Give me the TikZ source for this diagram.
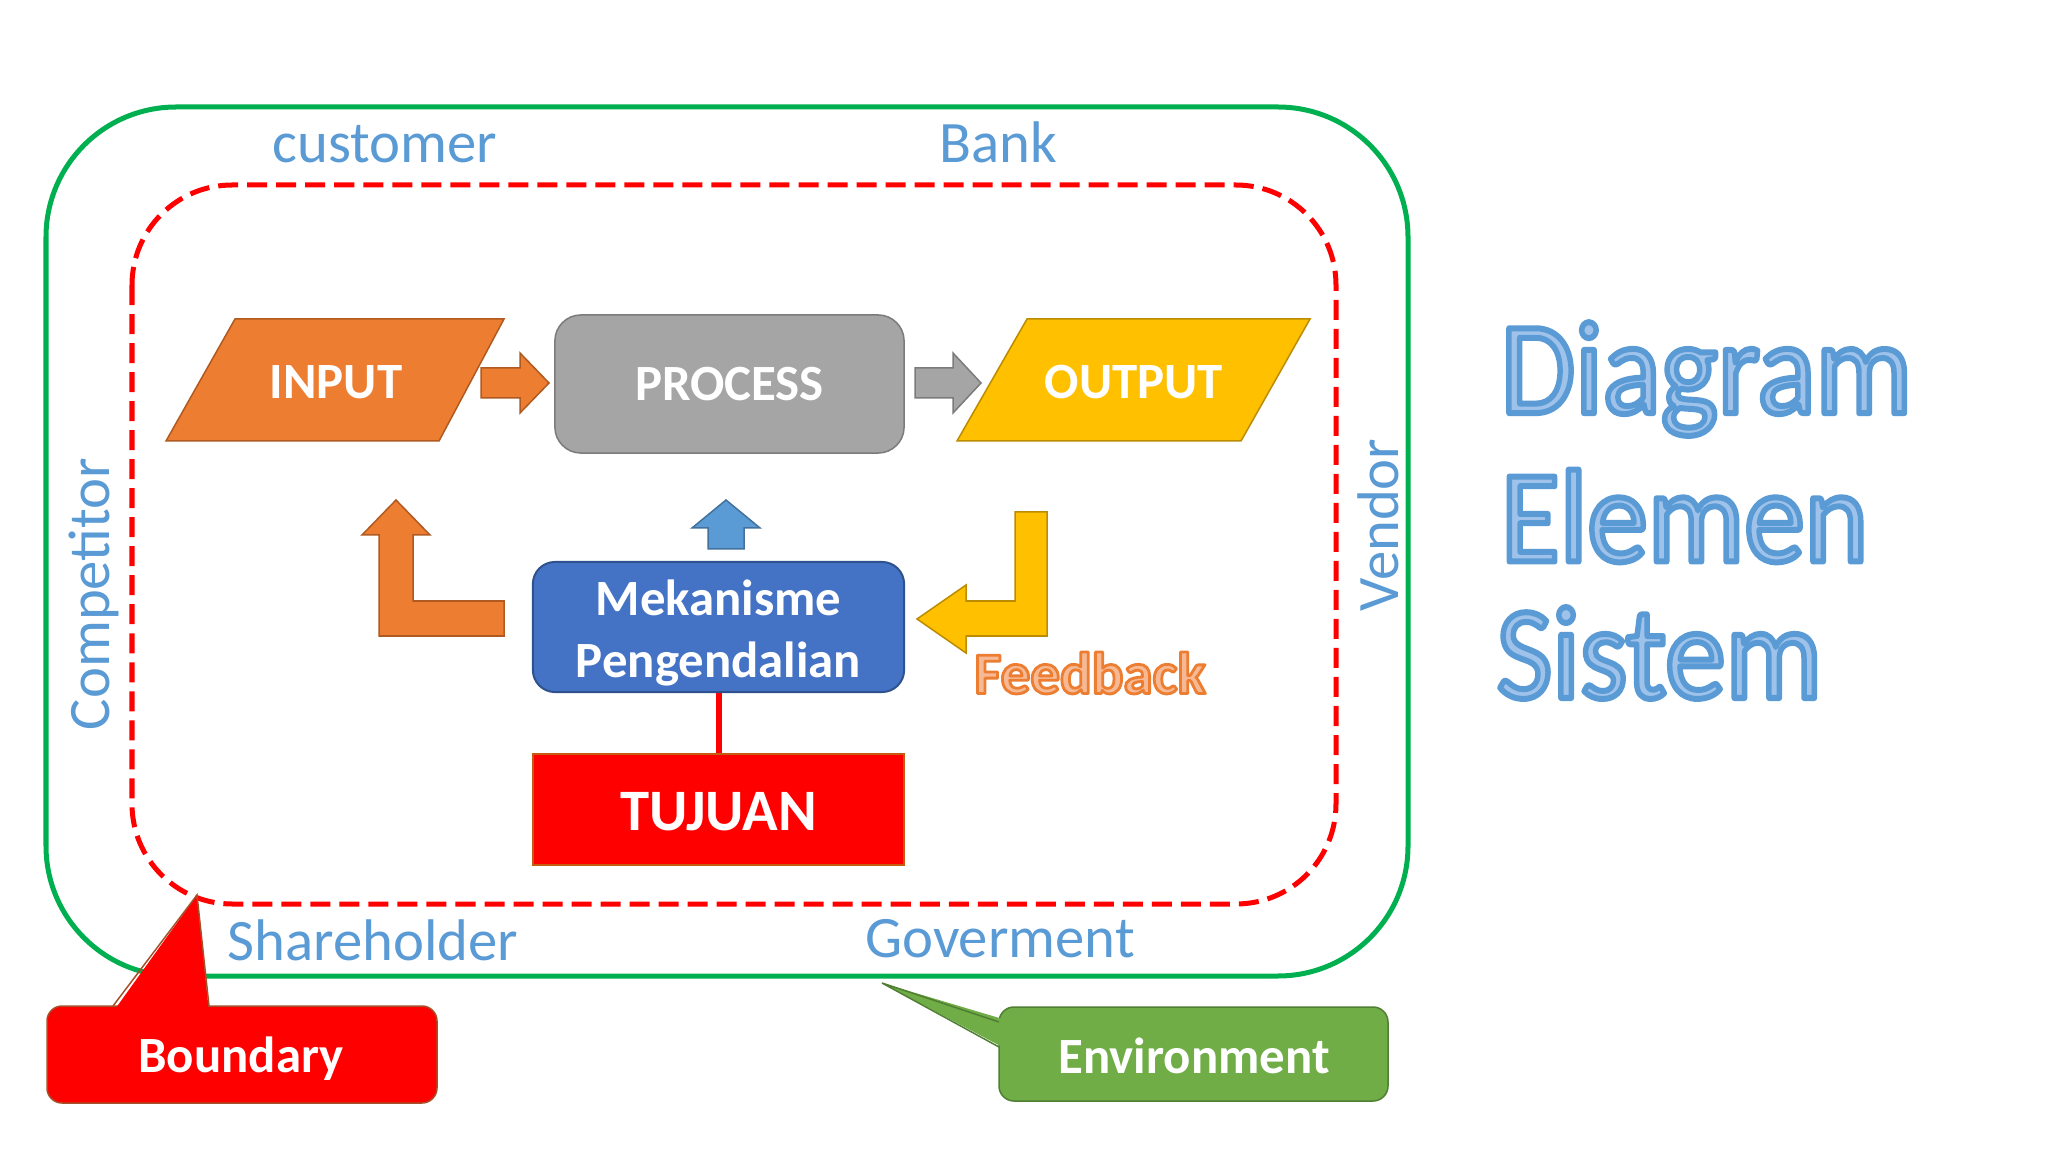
\documentclass[tikz,border=0pt]{standalone}
\usepackage{fontspec}
\setmainfont{Carlito}
\definecolor{grn}{HTML}{00B050}
\definecolor{lbl}{HTML}{5B9BD5}
\definecolor{org}{HTML}{ED7D31}
\definecolor{orgb}{HTML}{AE5A21}
\definecolor{gry}{HTML}{A5A5A5}
\definecolor{gryb}{HTML}{7B7B7B}
\definecolor{gld}{HTML}{FFC000}
\definecolor{gldb}{HTML}{BC8C00}
\definecolor{blu}{HTML}{4472C4}
\definecolor{blub}{HTML}{2F528F}
\definecolor{lblu}{HTML}{5B9BD5}
\definecolor{lblub}{HTML}{41719C}
\definecolor{tujb}{HTML}{C55A11}
\definecolor{envf}{HTML}{70AD47}
\definecolor{envb}{HTML}{507E32}
\definecolor{bndb}{HTML}{A5502B}
\definecolor{peach}{HTML}{F6B994}
\definecolor{ttlf}{HTML}{9EC2EA}
% outlined text: #1 fill colour, #2 stroke rgb, #3 stroke width (bp), #4 text
\newcommand\outlinedtext[4]{{\color{#1}\special{pdf:literal direct #2 RG #3 w 1 j 2 Tr}#4\special{pdf:literal direct 0 Tr}}}
\begin{document}
\begin{tikzpicture}[x=0.01cm,y=-0.01cm,
  boxtxt/.style={text=white,font=\fontsize{14.45}{17.4}\selectfont\bfseries,align=center,inner sep=0},
  lbltxt/.style={text=lbl,font=\fontsize{16.7}{20}\selectfont,inner sep=0},
  thin border/.style={line width=0.015cm},
  ttl/.style={anchor=west,inner sep=0,font=\fontsize{37.6}{45}\selectfont}
]
\useasboundingbox (0,0) rectangle (2048,1152);
\fill[white] (0,0) rectangle (2048,1152);

% environment and boundary
\draw[grn,line width=0.05cm,rounded corners=1.3cm] (46,107) rectangle (1408,976);
\draw[red,line width=0.05cm,dash pattern=on 0.2cm off 0.09cm,rounded corners=1.0cm] (132,185) rectangle (1336,904);

% labels
\node[lbltxt] (cust) at (385,144) {customer};
\node[lbltxt] (bank) at (998,142) {Bank};
\node[lbltxt] (share) at (373,940) {Shareholder};
\node[lbltxt] (gov) at (1000,939) {Goverment};
\node[lbltxt,rotate=90] (comp) at (94,594) {Competitor};
\node[lbltxt,rotate=90] (vend) at (1378,525) {Vendor};

% INPUT
\filldraw[fill=org,draw=orgb,thin border] (166,441) -- (235,319) -- (504,319) -- (439,441) -- cycle;
\node[boxtxt] (input) at (336,382) {INPUT};
% arrow input -> process
\filldraw[fill=org,draw=orgb,thin border] (481,368) -- (520,368) -- (520,353) -- (549,383) -- (520,413) -- (520,398) -- (481,398) -- cycle;
% PROCESS
\node[boxtxt,fill=gry,draw=gryb,thin border,rounded corners=0.26cm,minimum width=3.49cm,minimum height=1.38cm] (proc) at (729.5,384) {PROCESS};
% arrow process -> output
\filldraw[fill=gry,draw=gryb,thin border] (915,368) -- (953,368) -- (953,353) -- (981,383) -- (953,413) -- (953,398) -- (915,398) -- cycle;
% OUTPUT
\filldraw[fill=gld,draw=gldb,thin border] (957,441) -- (1027,319) -- (1310,319) -- (1241,441) -- cycle;
\node[boxtxt] (output) at (1134,382) {OUTPUT};

% Mekanisme
\node[fill=blu,draw=blub,line width=0.02cm,rounded corners=0.22cm,minimum width=3.71cm,minimum height=1.3cm] (mek) at (718.5,627) {};
\node[boxtxt] (mektxt) at (718.5,633) {Mekanisme\\Pengendalian};
% TUJUAN
\node[fill=red,draw=tujb,thin border,minimum width=3.71cm,minimum height=1.11cm] (tuj) at (718.5,809.5) {};
\node[inner sep=0,text=white,font=\fontsize{16.7}{20}\selectfont\bfseries] (tujtxt) at (718.5,812) {TUJUAN};
\draw[red,line width=0.06cm] (mek.south) -- (tuj.north);

% bent orange arrow
\filldraw[fill=org,draw=orgb,thin border] (396,500) -- (430,535) -- (413,535) -- (413,601) -- (504,601) -- (504,636) -- (379,636) -- (379,535) -- (362,535) -- cycle;
% blue up arrow
\filldraw[fill=lblu,draw=lblub,thin border] (726,500) -- (760,528) -- (744,528) -- (744,549) -- (708,549) -- (708,528) -- (692,528) -- cycle;
% yellow feedback arrow
\filldraw[fill=gld,draw=gldb,thin border] (1015,512) -- (1047,512) -- (1047,636) -- (966,636) -- (966,653) -- (917,619) -- (966,585) -- (966,601) -- (1015,601) -- cycle;
\node[inner sep=0,font=\fontsize{16.8}{20}\selectfont\bfseries] (fb) at (1090,673) {\outlinedtext{peach}{0.929 0.490 0.192}{0.8}{Feedback}};

% Title
\node[ttl] (t1) at (1500,379) {\scalebox{0.915}[1]{\outlinedtext{ttlf}{0.357 0.608 0.835}{1.7}{Diagram}}};
\node[ttl] (t2) at (1500,516) {\scalebox{0.915}[1]{\outlinedtext{ttlf}{0.357 0.608 0.835}{1.7}{Elemen}}};
\node[ttl] (t3) at (1496,653) {\scalebox{0.915}[1]{\outlinedtext{ttlf}{0.357 0.608 0.835}{1.7}{Sistem}}};

% Boundary callout
\filldraw[fill=red,draw=bndb,thin border,rounded corners=0.15cm] (47,1006) rectangle (437,1103);
\fill[red] (197,895) -- (113,1012) -- (209,1012) -- cycle;
\draw[bndb,thin border] (113,1006) -- (197,895) -- (209,1006);
\node[boxtxt] (bnd) at (241,1059) {Boundary};

% Environment callout
\filldraw[fill=envf,draw=envb,thin border,rounded corners=0.15cm] (999,1007) rectangle (1388,1101);
\fill[envf] (882,983) -- (1006,1020) -- (1006,1049) -- cycle;
\draw[envb,thin border] (999,1022) -- (882,983) -- (999,1047);
\node[boxtxt] (env) at (1194,1056) {Environment};
\end{tikzpicture}
\end{document}
